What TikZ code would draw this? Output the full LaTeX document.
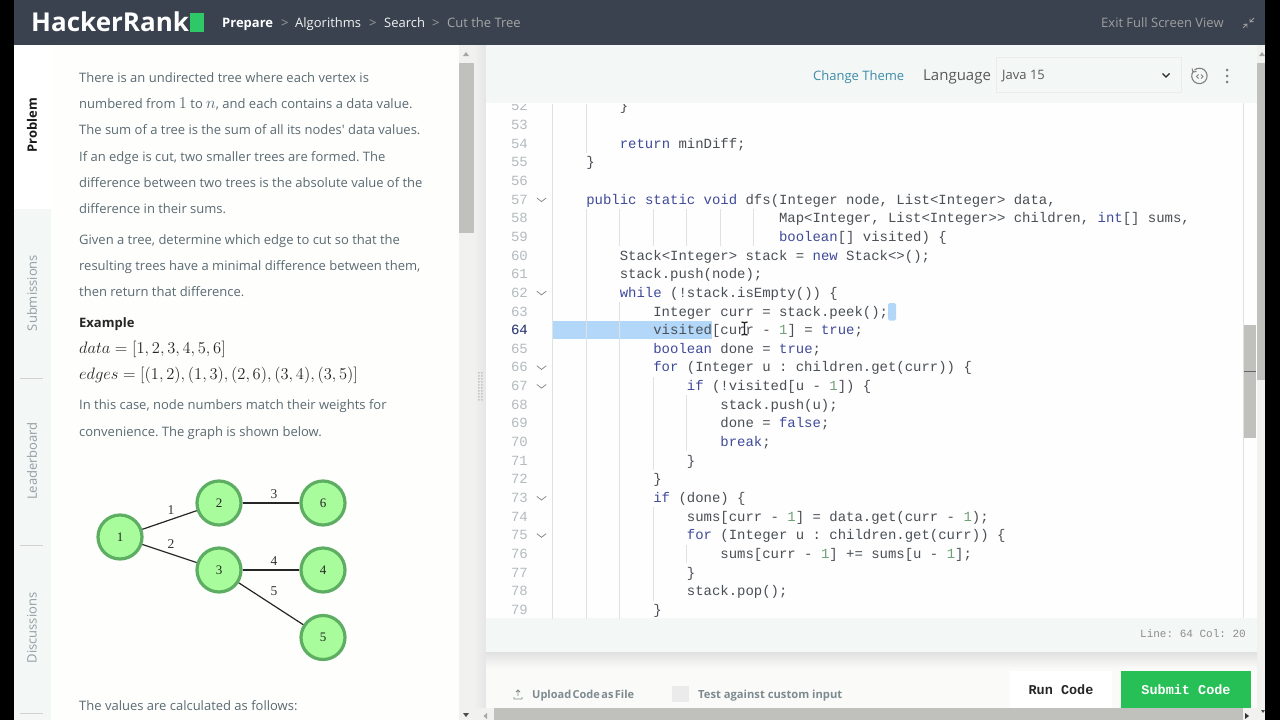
\documentclass[tikz,border=0pt]{standalone}
\usepackage[no-math]{fontspec}
\setmainfont{Open Sans}
\newfontfamily\codefont{Liberation Mono}
\newfontfamily\serfont{Liberation Serif}
\newfontfamily\tightfont[WordSpace=0.5]{Open Sans}
\frenchspacing
\definecolor{hdr}{HTML}{39424E}
\definecolor{pane}{HTML}{F3F8F6}
\definecolor{paper}{HTML}{FEFEFC}
\definecolor{lowbg}{HTML}{FAFBF9}
\definecolor{txt}{HTML}{5A6A72}
\definecolor{kwc}{HTML}{3F4A9A}
\definecolor{cod}{HTML}{4A4F55}
\definecolor{numc}{HTML}{6FA078}
\definecolor{gutt}{HTML}{B4BBBE}
\definecolor{guide}{HTML}{DFE2E2}
\definecolor{thumb}{HTML}{C0C1BC}
\definecolor{track}{HTML}{F1F1F0}
\definecolor{sel}{HTML}{B3D7F8}
\definecolor{nodef}{HTML}{A8FC9C}
\definecolor{nodes}{HTML}{5DAD63}
\definecolor{brand}{HTML}{27C057}
\definecolor{logog}{HTML}{2EC866}
\definecolor{tabt}{HTML}{929EA3}
\definecolor{themec}{HTML}{3E8AA6}
\definecolor{lowt}{HTML}{7D8A8F}
\tikzset{
 body/.style={anchor=base west,inner sep=0,text=txt,font=\fontsize{13}{13}\selectfont},
 code/.style={anchor=base west,inner sep=0,text=cod,font=\codefont\fontsize{13.97}{14}\selectfont},
 lnum/.style={anchor=base east,inner sep=0,text=gutt,font=\codefont\fontsize{14}{14}\selectfont},
 crumb/.style={anchor=base west,inner sep=0,font=\fontsize{13}{13}\selectfont},
 tab/.style={rotate=90,inner sep=0,text=tabt,font=\fontsize{13}{13}\selectfont},
 vertex/.style={circle,draw=nodes,fill=nodef,line width=3.2pt,minimum size=44pt,inner sep=0,font=\serfont\fontsize{13}{13}\selectfont,text=black!85},
 elabel/.style={inner sep=0,font=\serfont\fontsize{13.5}{14}\selectfont,text=black!80},
 edgeline/.style={line width=1.2pt,black!85},
 fold/.style={line width=.8pt,gray!90,line cap=round},
}
\newcommand{\kw}[1]{\textcolor{kwc}{#1}}
\newcommand{\nm}[1]{\textcolor{numc}{#1}}
\newcommand{\mth}[1]{\scalebox{1.146}{\fontsize{14.4}{14.4}\selectfont$#1$}}
\newcommand{\cl}[3]{%
 \pgfmathsetmacro\yy{125+(#1-53)*18.65}%
 \pgfmathsetmacro\xx{552.6+#2*8.38}%
 \foreach \g in {0,4,...,24}{%
  \ifnum\g<#2\relax
   \pgfmathsetmacro\gx{552.6+\g*8.38}%
   \draw[guide,line width=.8pt] (\gx,\yy-9.33) -- (\gx,\yy+9.33);
  \fi}%
 \node[code] (c#1) at (\xx,\yy+4.5) {#3};%
 \node[lnum] (n#1) at (528,\yy+4.5) {#1};%
}
\begin{document}
\begin{tikzpicture}[x=1pt,y=-1pt]
\useasboundingbox (0,0) rectangle (1280,720);
\fill[paper] (0,0) rectangle (1280,720);
% outer black
\fill[black] (0,0) rectangle (14,720);
\fill[black] (1265,0) rectangle (1280,720);
% header
\fill[hdr] (14,0) rectangle (1265,45);
\node[anchor=base west,inner sep=0,text=white,font=\bfseries\fontsize{26}{26}\selectfont] (logo) at (31,31.5) {HackerRank};
\fill[logog] (190,13) rectangle (204,31.5);
\node[crumb,text=white,font=\bfseries\fontsize{13}{13}\selectfont] (b1) at (222,27.5) {Prepare};
\node[crumb,text=gray!80] (s1) at (281,27.5) {>};
\node[crumb,text=white!90!gray] (b2) at (295,27.5) {Algorithms};
\node[crumb,text=gray!80] (s2) at (369,27.5) {>};
\node[crumb,text=white!90!gray] (b3) at (384,27.5) {Search};
\node[crumb,text=gray!80] (s3) at (432,27.5) {>};
\node[crumb,text=gray!70] (b4) at (447,27.5) {Cut the Tree};
\node[crumb,text=gray!75] (exit) at (1101,27.5) {Exit Full Screen View};
\draw[gray!75,line width=.8pt] (1243,28)--(1247,24) (1243.5,24.5)--(1247,24)--(1247,27.5)
 (1254,18)--(1250,22) (1253.5,21.5)--(1250,22)--(1250,18.5);
% tabs
\fill[pane] (14,45) rectangle (51,720);
\fill[white] (14,45) rectangle (51,209);
\node[tab,text=black!90,font=\bfseries\fontsize{13}{13}\selectfont] (t1) at (32,125) {Problem};
\node[tab] (t2) at (32,293) {Submissions};
\node[tab] (t3) at (32,461) {Leaderboard};
\node[tab] (t4) at (32,628) {Discussions};
\foreach \y in {378,545,713} \draw[gray!35,line width=.7pt] (20,\y)--(43,\y);
% problem text
\node[body] at (79,82) {There is an undirected tree where each vertex is};
\node[body] at (79,108) {numbered from \mth{1} to \mth{n}, and each contains a data value.};
\node[body] at (79,134) {The sum of a tree is the sum of all its nodes\textquotesingle\ data values.};
\node[body] at (79,161) {If an edge is cut, two smaller trees are formed. The};
\node[body] at (79,187) {difference between two trees is the absolute value of the};
\node[body] at (79,213) {difference in their sums.};
\node[body] at (79,244) {Given a tree, determine which edge to cut so that the};
\node[body] at (79,270) {resulting trees have a minimal difference between them,};
\node[body] at (79,296) {then return that difference.};
\node[body,text=black!85,font=\bfseries\fontsize{13}{13}\selectfont] at (79,327) {Example};
\node[body,text=black!85] at (79,353) {\mth{data=[1,2,3,4,5,6]}};
\node[body,text=black!85] at (79,379) {\mth{edges=[(1,2),(1,3),(2,6),(3,4),(3,5)]}};
\node[body] at (79,409) {In this case, node numbers match their weights for};
\node[body] at (79,436) {convenience. The graph is shown below.};
\node[body] at (79,710) {The values are calculated as follows:};
% graph
\node[vertex] (v1) at (120,537) {1};
\node[vertex] (v2) at (219,503) {2};
\node[vertex] (v6) at (323,503) {6};
\node[vertex] (v3) at (219,570) {3};
\node[vertex] (v4) at (323,570) {4};
\node[vertex] (v5) at (323,637.5) {5};
\draw[edgeline] (v1)--(v2);
\draw[edgeline] (v1)--(v3);
\draw[edgeline] (v2)--(v6);
\draw[edgeline] (v3)--(v4);
\draw[edgeline] (v3)--(v5);
\node[elabel] (e1) at (171,510.5) {1};
\node[elabel] (e2) at (171,544) {2};
\node[elabel] (e3) at (274,494) {3};
\node[elabel] (e4) at (274,561) {4};
\node[elabel] (e5) at (274,591) {5};
% left scrollbar
\fill[track] (459,45) rectangle (474,720);
\fill[thumb] (459,63) rectangle (474,233);
\fill[gray!70] (463,56)--(469,56)--(466,52)--cycle;
\fill[black!70] (463,713)--(469,713)--(466,717)--cycle;
% grip
\shade[left color=track,right color=black!10] (474,45) rectangle (486,720);
\foreach \y in {372,375,...,399} \fill[gray!45] (478,\y) rectangle (479.5,\y+1.5) (481,\y) rectangle (482.5,\y+1.5);
% lower background
\fill[lowbg] (486,652) rectangle (1257,720);
% right scrollbar
\fill[track] (1257,45) rectangle (1265,720);
\fill[thumb] (1257,63) rectangle (1265,380);
\fill[gray!70] (1259,56)--(1265,56)--(1262,52)--cycle;
% editor shadow
\shade[top color=black!12,bottom color=lowbg] (486,652) rectangle (1257,668);
% editor
\fill[pane] (486,45) rectangle (1257,652);
\node[crumb,text=themec] (theme) at (813,80) {Change Theme};
\node[crumb,text=black!65,font=\fontsize{15}{15}\selectfont] (lang) at (923,80.5) {Language};
\node[draw=black!8,fill=pane,line width=1pt,minimum width=185pt,minimum height=35pt,inner sep=0] (box) at (1088.5,74.5) {};
\node[crumb,text=black!65] (java) at (1002,79.5) {Java 15};
\draw[black!85,line width=1.1pt] (1162.5,73.5)--(1166,77)--(1169.5,73.5);
\draw[black!50,line width=1.1pt] (1193.5,71) arc[start angle=220,end angle=-130,radius=7.7];
\draw[black!50,line width=1pt] (1192,68.5)--(1193,72)--(1196.5,71.5);
\draw[black!50,line width=.8pt] (1198.5,74.5)--(1196.5,76.5)--(1198.5,78.5) (1201,74.5)--(1203,76.5)--(1201,78.5);
\foreach \y in {70,76,82} \fill[black!50] (1227,\y) circle (1.5);
% code
\fill[white!60!paper] (486,103) rectangle (1257,618);
\draw[guide,line width=.8pt] (1243,103)--(1243,618);
\begin{scope}
\clip (486,104) rectangle (1243,618);
\fill[sel] (553,321) rectangle (712,339);
\fill[sel,rounded corners=1.5pt] (888,303) rectangle (896,320.5);
\cl{52}{8}{\}}
\cl{53}{8}{}
\cl{54}{8}{\kw{return} minDiff;}
\cl{55}{4}{\}}
\cl{56}{4}{}
\cl{57}{4}{\kw{public static void} dfs(Integer node, List<Integer> data,}
\cl{58}{27}{Map<Integer, List<Integer>> children, \kw{int}[] sums,}
\cl{59}{27}{\kw{boolean}[] visited) \{}
\cl{60}{8}{Stack<Integer> stack = \kw{new} Stack<>();}
\cl{61}{8}{stack.push(node);}
\cl{62}{8}{\kw{while} (!stack.isEmpty()) \{}
\cl{63}{12}{Integer curr = stack.peek();}
\cl{64}{12}{visited[curr - \nm{1}] = \kw{true};}
\cl{65}{12}{\kw{boolean} done = \kw{true};}
\cl{66}{12}{\kw{for} (Integer u : children.get(curr)) \{}
\cl{67}{16}{\kw{if} (!visited[u - \nm{1}]) \{}
\cl{68}{20}{stack.push(u);}
\cl{69}{20}{done = \kw{false};}
\cl{70}{20}{\kw{break};}
\cl{71}{16}{\}}
\cl{72}{12}{\}}
\cl{73}{12}{\kw{if} (done) \{}
\cl{74}{16}{sums[curr - \nm{1}] = data.get(curr - \nm{1});}
\cl{75}{16}{\kw{for} (Integer u : children.get(curr)) \{}
\cl{76}{20}{sums[curr - \nm{1}] += sums[u - \nm{1}];}
\cl{77}{16}{\}}
\cl{78}{16}{stack.pop();}
\cl{79}{12}{\}}
\node[lnum,text=kwc!80!black] (cur) at (528,334.2) {64};
\end{scope}
\foreach \n in {57,62,66,67,73,75}{
 \pgfmathsetmacro\yy{125+(\n-53)*18.65}
 \draw[fold] (537,\yy-1.5)--(541.5,\yy+2)--(546,\yy-1.5);
}
% I-beam
\draw[black!85,line width=1.3pt] (741.5,322)--(744.5,322.7)--(747.5,322) (744.5,322.7)--(744.5,334.3) (741.5,335)--(744.5,334.3)--(747.5,335);
% scrollbar in editor
\fill[thumb] (1243.5,325) rectangle (1256,438);
\fill[black!60] (1243.5,370.8) rectangle (1256,372.2);
% footer
\node[anchor=base east,inner sep=0,text=gray!90,font=\codefont\fontsize{11}{11}\selectfont] (pos) at (1246,637) {Line: 64 Col: 20};
% bottom
\draw[lowt,line width=.8pt] (518,696)--(518,690) (516,692)--(518,690)--(520,692) (514,697)--(514,699)--(522,699)--(522,697);
\node[anchor=base west,inner sep=0,text=lowt,font=\tightfont\bfseries\fontsize{11}{11}\selectfont] (up) at (532,698) {Upload Code as File};
\fill[black!8] (672,686) rectangle (689,702);
\node[anchor=base west,inner sep=0,text=lowt,font=\bfseries\fontsize{11.2}{11}\selectfont] (cust) at (698,698) {Test against custom input};
\fill[white] (1010,671) rectangle (1112,708);
\node[inner sep=0,text=black!85,font=\codefont\bfseries\fontsize{13.5}{13.5}\selectfont] (run) at (1061,689.5) {Run Code};
\fill[brand] (1121,671) rectangle (1251,708);
\node[inner sep=0,text=white,font=\codefont\bfseries\fontsize{13.5}{13.5}\selectfont] (sub) at (1186,689.5) {Submit Code};
% bottom scrollbar
\fill[track] (474,708) rectangle (1257,720);
\fill[thumb] (494,708) rectangle (1243,720);
\fill[gray!70] (487,713)--(487,719)--(483.5,716)--cycle;
\fill[black!80] (1245,713)--(1245,719)--(1249,716)--cycle;
\fill[black!70] (1261,710)--(1265,710)--(1263,713)--cycle;
\end{tikzpicture}
\end{document}
